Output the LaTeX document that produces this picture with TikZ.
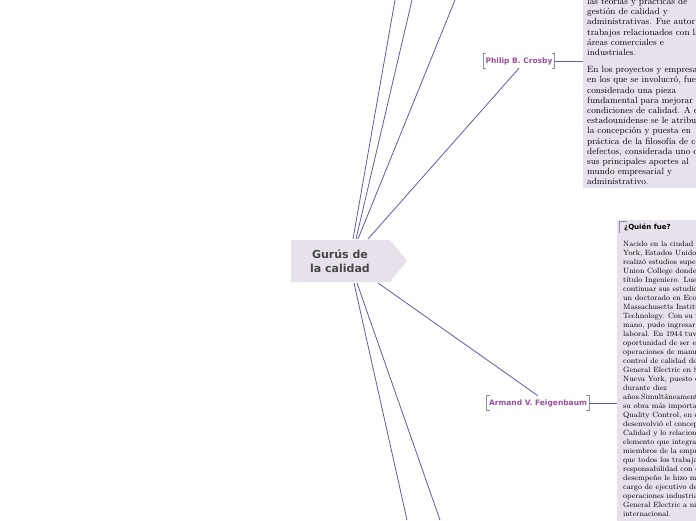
\documentclass[tikz,border=0pt]{standalone}
\usepackage{fontspec}
\newfontfamily\labfont{DejaVu Sans}
\definecolor{lnc}{HTML}{5C5CA8}
\definecolor{fillc}{HTML}{E7E1EC}
\definecolor{labc}{HTML}{9A4E9E}
\definecolor{brk}{HTML}{8A8AB8}
\tikzset{
  conn/.style={draw=lnc, line width=0.8pt},
  guru/.style={font=\labfont\bfseries\fontsize{7.5}{9}\selectfont, text=labc, inner sep=2pt, minimum height=14pt},
  body/.style={align=left, anchor=north west, inner sep=0pt, text=black},
}
\begin{document}
\begin{tikzpicture}[x=1pt,y=-1pt]
\useasboundingbox (0,0) rectangle (696,520);
\clip (0,0) rectangle (696,520);
% central node
\fill[fillc] (291,240) -- (390,240) -- (407,261) -- (390,282) -- (291,282) -- cycle;
\node[font=\labfont\bfseries\fontsize{11}{14}\selectfont, text=black!72, align=center] (c) at (340,261) {Gur\'us de\\la calidad};
\coordinate (t1) at (395,0);
\coordinate (t2) at (412,0);
\coordinate (t3) at (455,0);
\coordinate (b1) at (407,520);
\coordinate (b2) at (440,520);
\coordinate (c1) at (353,239);
\coordinate (c2) at (356,239);
\coordinate (c3) at (358,239);
\coordinate (c4) at (368,239);
\coordinate (d1) at (354,283);
\coordinate (d2) at (357,283);
\coordinate (d3) at (378,283);
% text boxes
\fill[fillc] (583,-5) rectangle (700,188);
\fill[fillc] (617,220) rectangle (700,525);
\node[body, font=\fontsize{9}{10.2}\selectfont] (tc) at (587,-2) {las teor\'ias y pr\'acticas de\\gesti\'on de calidad y\\administrativas. Fue autor de\\trabajos relacionados con las\\\'areas comerciales e\\industriales.\\[7pt]En los proyectos y empresas\\en los que se involucr\'o, fue\\considerado una pieza\\fundamental para mejorar las\\condiciones de calidad. A este\\estadounidense se le atribuye\\la concepci\'on y puesta en\\pr\'actica de la filosof\'ia de cero\\defectos, considerada uno de\\sus principales aportes al\\mundo empresarial y\\administrativo.};
\node[body, font=\labfont\bfseries\fontsize{7}{8}\selectfont] (q) at (624,224) {¿Qui\'en fue?};
\draw[brk, line width=1pt] (619,233) -- (619,221) -- (627,221);
\node[body, font=\fontsize{7.6}{9}\selectfont] (tf) at (623,241) {Nacido en la ciudad de Nueva\\York, Estados Unidos,\\realiz\'o estudios superiores en\\Union College donde obtuvo el\\t\'itulo Ingeniero. Luego de\\continuar sus estudios obtuvo\\un doctorado en Econom\'ia en\\Massachusetts Institute of\\Technology. Con su t\'itulo en\\mano, pudo ingresar al mundo\\laboral. En 1944 tuvo la\\oportunidad de ser el jefe de\\operaciones de manufactura y\\control de calidad de la\\General Electric en Schenectady,\\Nueva York, puesto que ocup\'o\\durante diez\\a\~nos.Simult\'aneamente publica\\su obra m\'as importante, Total\\Quality Control, en el que\\desenvolvi\'o el concepto de\\Calidad y lo relacion\'o como un\\elemento que integra a todos los\\miembros de la empresa, de modo\\que todos los trabajadores tengan\\responsabilidad con ella. Su\\desempe\~no le hizo merecedor del\\cargo de ejecutivo de\\operaciones industriales de la\\General Electric a nivel\\internacional.};
% guru labels
\node[guru] (pc) at (519,61) {Philip B. Crosby};
\node[guru] (af) at (538,403) {Armand V. Feigenbaum};
\foreach \n in {pc,af}{
  \draw[brk, line width=0.9pt] ([xshift=3pt]\n.north west) -- (\n.north west) -- (\n.south west) -- ([xshift=3pt]\n.south west);
  \draw[brk, line width=0.9pt] ([xshift=-3pt]\n.north east) -- (\n.north east) -- (\n.south east) -- ([xshift=-3pt]\n.south east);
}
\coordinate (tcL) at (583,61);
\coordinate (tfL) at (617,403);
% connectors
\draw[conn] (c1) -- (t1);
\draw[conn] (c2) -- (t2);
\draw[conn] (c3) -- (t3);
\draw[conn] (c4) -- (pc.south);
\draw[conn] (pc.east) -- (tcL);
\draw[conn] (d1) -- (b1);
\draw[conn] (d2) -- (b2);
\draw[conn] (d3) -- (af.north);
\draw[conn] (af.east) -- (tfL);
\end{tikzpicture}
\end{document}
